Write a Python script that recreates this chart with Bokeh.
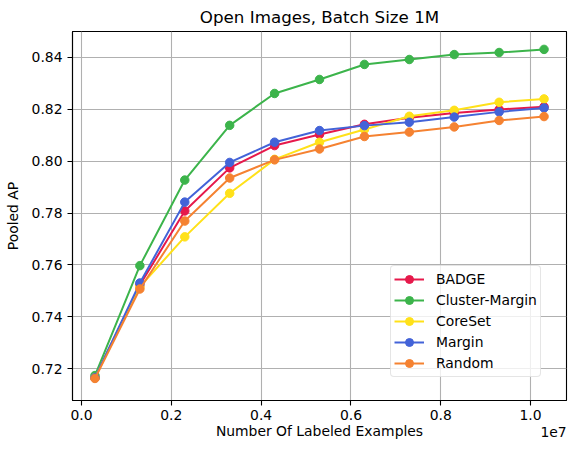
from bokeh.plotting import figure
from bokeh.models import (Range1d, FixedTicker, CustomJSTickFormatter, Legend, LegendItem,
                          LinearAxis, ColumnDataSource)
from bokeh.embed import file_html
from bokeh.resources import INLINE

labeled_examples = [300000, 1300000, 2300000, 3300000, 4300000, 5300000,
                    6300000, 7300000, 8300000, 9300000, 10300000]
series_names = ["BADGE", "Cluster-Margin", "CoreSet", "Margin", "Random"]
badge = [0.7165, 0.7522, 0.7808, 0.7974, 0.8060, 0.8103, 0.8142, 0.8167, 0.8186, 0.8199, 0.8210]
cluster_margin = [0.7173, 0.7597, 0.7927, 0.8138, 0.8261, 0.8315, 0.8373, 0.8392, 0.8411, 0.8419, 0.8431]
coreset = [0.7165, 0.7515, 0.7708, 0.7876, 0.8007, 0.8073, 0.8122, 0.8173, 0.8196, 0.8227, 0.8240]
margin = [0.7165, 0.7530, 0.7842, 0.7995, 0.8073, 0.8118, 0.8137, 0.8150, 0.8170, 0.8190, 0.8205]
random_ = [0.7162, 0.7507, 0.7769, 0.7935, 0.8005, 0.8047, 0.8095, 0.8112, 0.8132, 0.8157, 0.8172]
colors = ["#e6194b", "#3cb44b", "#ffe119", "#4363d8", "#f58231"]
x_ticks = [0, 2000000, 4000000, 6000000, 8000000, 10000000]
y_ticks = [0.72, 0.74, 0.76, 0.78, 0.80, 0.82, 0.84]
x_offset_text = "1e7"

FONT = "DejaVu Sans"
X_START, X_END = -200000, 10800000

p = figure(width=578, height=453, output_backend="svg", toolbar_location=None,
           x_range=Range1d(X_START, X_END), y_range=Range1d(0.70769, 0.85),
           min_border_left=72, min_border_right=12, min_border_top=30, min_border_bottom=53,
           title="Open Images, Batch Size 1M")

p.title.text_font = FONT
p.title.text_font_size = "16.7px"
p.title.text_font_style = "normal"
p.title.align = "center"
p.title.vertical_align = "bottom"
p.title.text_color = "black"
p.title.standoff = 9

p.outline_line_color = "black"
p.outline_line_width = 1.1
p.outline_line_alpha = 1.0


def style_axis(ax):
    ax.axis_line_color = "black"
    ax.axis_line_width = 1.1
    ax.major_tick_line_color = "black"
    ax.major_tick_line_width = 1.1
    ax.major_tick_out = 5
    ax.major_tick_in = 0
    ax.minor_tick_line_color = None
    ax.major_label_text_font = FONT
    ax.major_label_text_font_size = "13.9px"
    ax.major_label_text_color = "black"
    ax.axis_label_text_font = FONT
    ax.axis_label_text_font_size = "13.9px"
    ax.axis_label_text_font_style = "normal"
    ax.axis_label_text_color = "black"


style_axis(p.xaxis[0])
style_axis(p.yaxis[0])

p.xaxis.ticker = FixedTicker(ticks=x_ticks)
p.yaxis.ticker = FixedTicker(ticks=y_ticks)
p.xaxis.formatter = CustomJSTickFormatter(code="return (tick/1e7).toFixed(1);")
p.yaxis.formatter = CustomJSTickFormatter(code="return tick.toFixed(2);")
p.xaxis.axis_label = "Number Of Labeled Examples"
p.yaxis.axis_label = "Pooled AP"
p.xaxis.major_label_standoff = 4
p.yaxis.major_label_standoff = 5
p.xaxis.axis_label_standoff = 0
p.yaxis.axis_label_standoff = 8

p.grid.grid_line_color = "#b0b0b0"
p.grid.grid_line_width = 1.1
p.grid.grid_line_alpha = 1.0

# offset text "1e7" at the right end of the x axis, on the axis-label row
offset_axis = LinearAxis(ticker=FixedTicker(ticks=[X_END - 0.0263 * (X_END - X_START)]),
                         formatter=CustomJSTickFormatter(code="return '%s';" % x_offset_text))
style_axis(offset_axis)
offset_axis.axis_line_color = None
offset_axis.major_tick_line_color = None
offset_axis.major_tick_out = 0
offset_axis.major_label_standoff = -15
p.add_layout(offset_axis, "below")

all_series = [badge, cluster_margin, coreset, margin, random_]
items = []
for name, vals, col in zip(series_names, all_series, colors):
    src = ColumnDataSource(dict(x=labeled_examples, y=vals))
    r1 = p.line("x", "y", source=src, line_color=col, line_width=2.0)
    r2 = p.scatter("x", "y", source=src, size=8.5, fill_color=col, line_color=col, marker="circle")
    items.append(LegendItem(label=name, renderers=[r1, r2]))

legend = Legend(items=items, location=(318, 23), margin=0, padding=3, spacing=1,
                glyph_width=30, glyph_height=20, label_height=20, label_standoff=12,
                label_text_font=FONT, label_text_font_size="13.9px", label_text_color="black",
                border_line_color="#cccccc", border_line_width=1.0,
                background_fill_color="white", background_fill_alpha=0.8)
try:
    legend.border_radius = 4
except Exception:
    pass
p.add_layout(legend, "center")

open("out.html", "w").write(file_html(p, INLINE))
